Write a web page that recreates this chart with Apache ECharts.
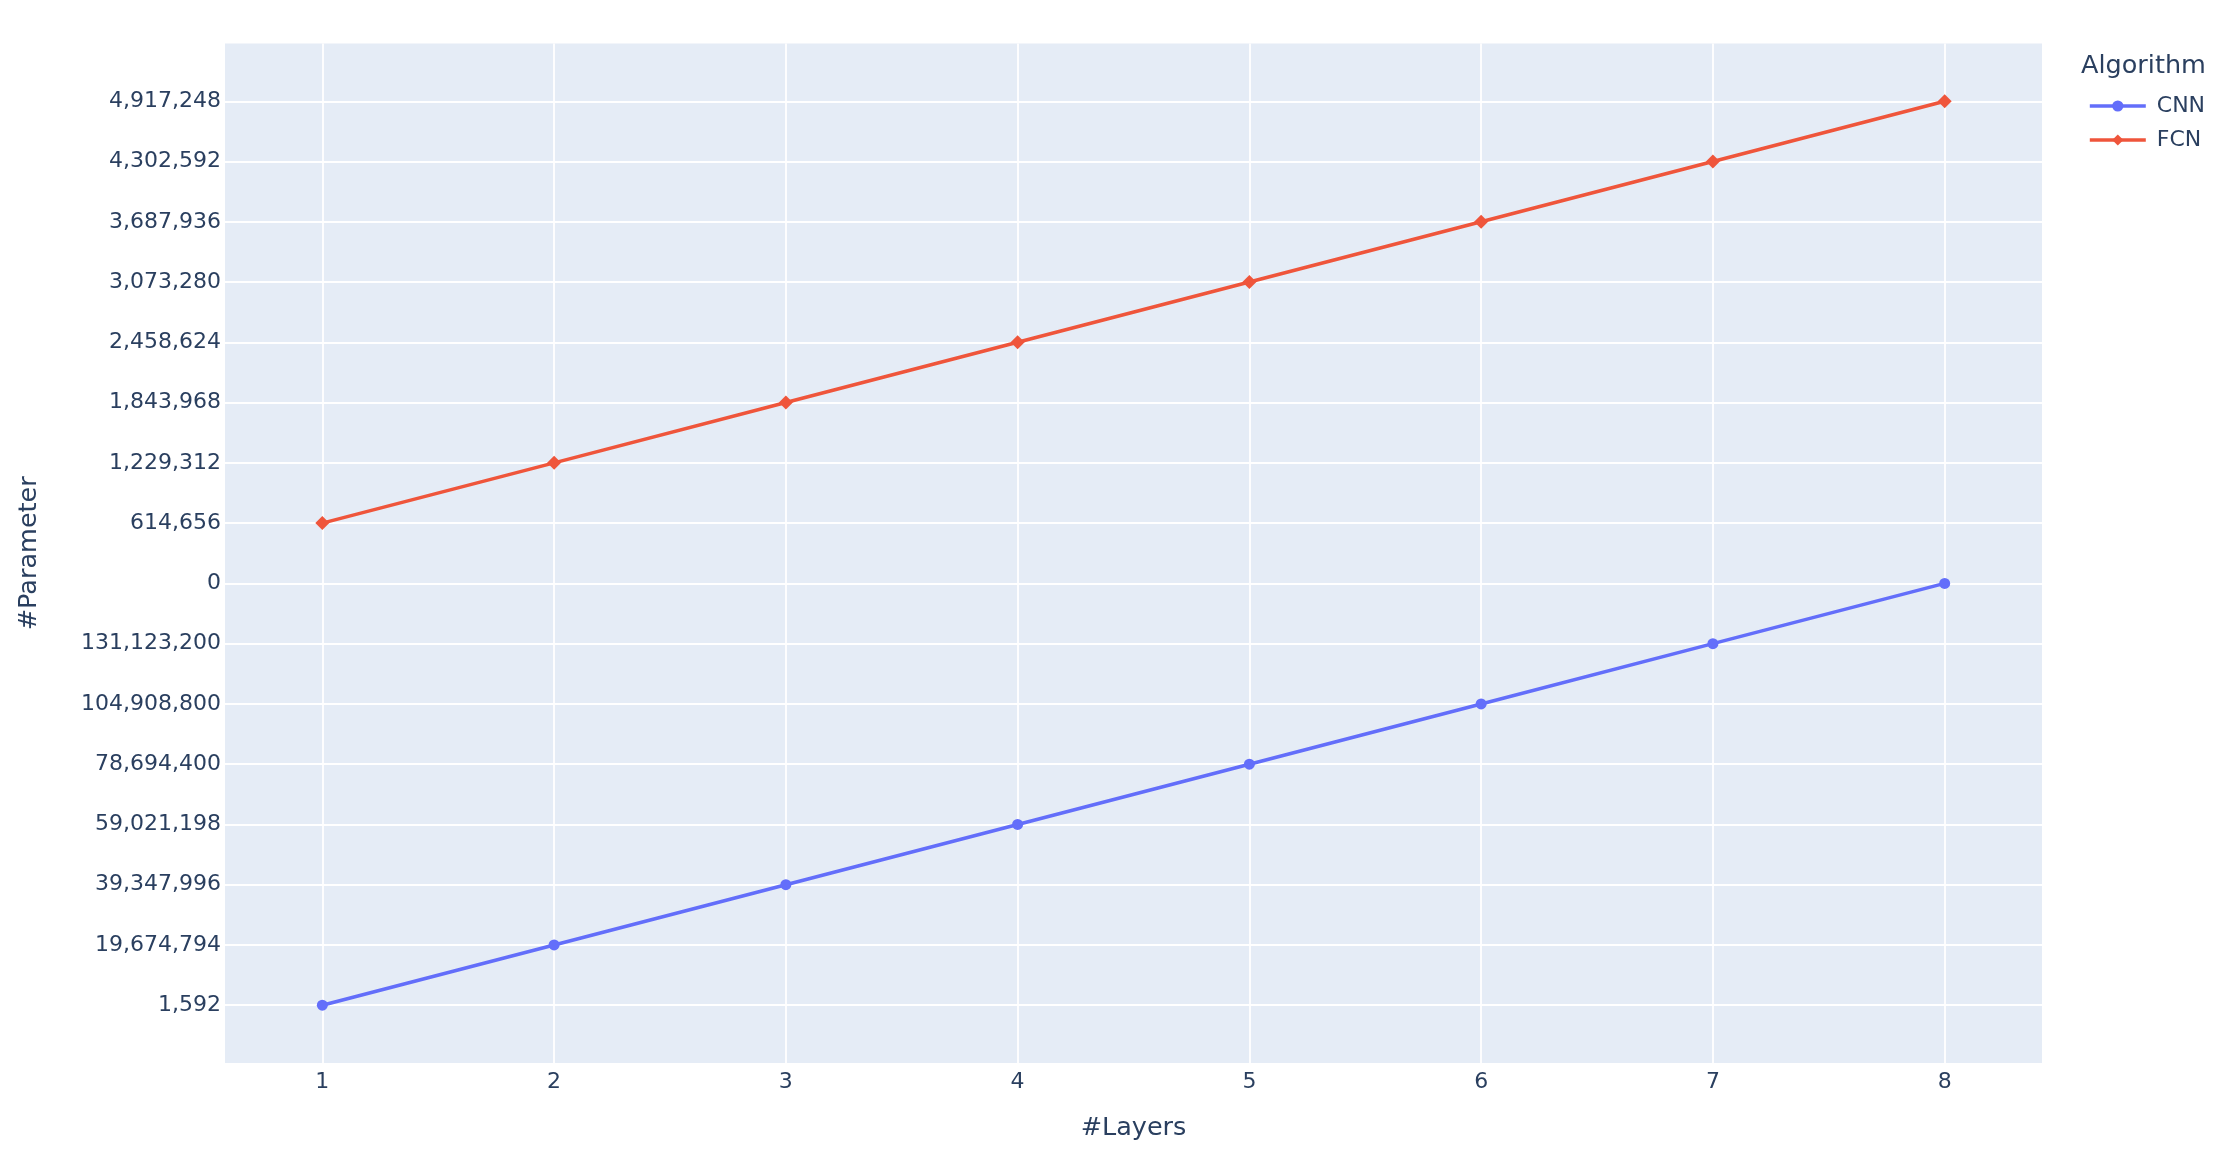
<!DOCTYPE html>
<html>
<head>
<meta charset="utf-8">
<title>#Parameter vs #Layers</title>
<script src="https://cdn.jsdelivr.net/npm/echarts@6/dist/echarts.min.js"></script>
<style>
  html, body { margin: 0; padding: 0; background: #fff; }
  #chart { width: 2218px; height: 1155px; }
</style>
</head>
<body>
<div id="chart"></div>
<script>
// data
var layers = [1, 2, 3, 4, 5, 6, 7, 8];
var cnnParams = [1592, 19674794, 39347996, 59021198, 78694400, 104908800, 131123200, 0];
var fcnParams = [614656, 1229312, 1843968, 2458624, 3073280, 3687936, 4302592, 4917248];
// the y axis is categorical, bottom to top, in order of first appearance
var yCategories = ['1,592', '19,674,794', '39,347,996', '59,021,198', '78,694,400',
    '104,908,800', '131,123,200', '0', '614,656', '1,229,312', '1,843,968',
    '2,458,624', '3,073,280', '3,687,936', '4,302,592', '4,917,248'];

var textColor = '#2a3f5f';
var font = 'DejaVu Sans';

function fmt(v) { return v.toLocaleString('en-US'); }
function toPoints(values) {
    return values.map(function (v, i) {
        return [layers[i], yCategories.indexOf(fmt(v))];
    });
}

var chart = echarts.init(document.getElementById('chart'));
var option = {
    backgroundColor: '#fff',
    animation: false,
    textStyle: { fontFamily: font },
    title: {
        text: 'Algorithm',
        left: 2081,
        top: 53,
        padding: 0,
        textStyle: { fontFamily: font, fontSize: 25.5, fontWeight: 'normal', color: textColor }
    },
    legend: {
        orient: 'vertical',
        left: 2088,
        top: 94,
        itemWidth: 56,
        itemHeight: 14,
        itemGap: 10,
        padding: 0,
        lineStyle: { width: 3.6 },
        textStyle: { fontFamily: font, fontSize: 22, color: textColor, lineHeight: 24, padding: [0, 0, 0, 6] },
        data: ['CNN', 'FCN']
    },
    grid: {
        left: 225,
        right: 176,
        top: 43.5,
        bottom: 92,
        show: true,
        backgroundColor: '#E5ECF6',
        borderWidth: 0
    },
    xAxis: {
        type: 'value',
        min: 0.58,
        max: 8.42,
        minInterval: 1,
        maxInterval: 1,
        name: '#Layers',
        nameLocation: 'middle',
        nameGap: 52,
        nameTextStyle: { fontFamily: font, fontSize: 25.5, color: textColor },
        axisLine: { show: false },
        axisTick: { show: false },
        axisLabel: {
            fontFamily: font, fontSize: 22, color: textColor, margin: 8,
            showMinLabel: false, showMaxLabel: false
        },
        splitLine: {
            show: true, showMinLine: false, showMaxLine: false,
            lineStyle: { color: '#fff', width: 1.8 }
        }
    },
    yAxis: {
        type: 'value',
        min: -0.96,
        max: 15.96,
        minInterval: 1,
        maxInterval: 1,
        name: '#Parameter',
        nameLocation: 'middle',
        nameGap: 183,
        nameTextStyle: { fontFamily: font, fontSize: 25.5, color: textColor },
        axisLine: { show: false },
        axisTick: { show: false },
        axisLabel: {
            fontFamily: font, fontSize: 22, color: textColor, margin: 4,
            showMinLabel: false, showMaxLabel: false,
            formatter: function (v) {
                var i = Math.round(v);
                return Math.abs(v - i) < 1e-6 && yCategories[i] !== undefined ? yCategories[i] : '';
            }
        },
        splitLine: {
            show: true, showMinLine: false, showMaxLine: false,
            lineStyle: { color: '#fff', width: 1.8 }
        }
    },
    series: [
        {
            name: 'CNN',
            type: 'line',
            data: toPoints(cnnParams),
            symbol: 'circle',
            symbolSize: 11,
            color: '#636EFA',
            lineStyle: { width: 3.6, color: '#636EFA' },
            itemStyle: { color: '#636EFA' }
        },
        {
            name: 'FCN',
            type: 'line',
            data: toPoints(fcnParams),
            symbol: 'diamond',
            symbolSize: 14,
            color: '#EF553B',
            lineStyle: { width: 3.6, color: '#EF553B' },
            itemStyle: { color: '#EF553B' }
        }
    ]
};
chart.setOption(option);
</script>
</body>
</html>
